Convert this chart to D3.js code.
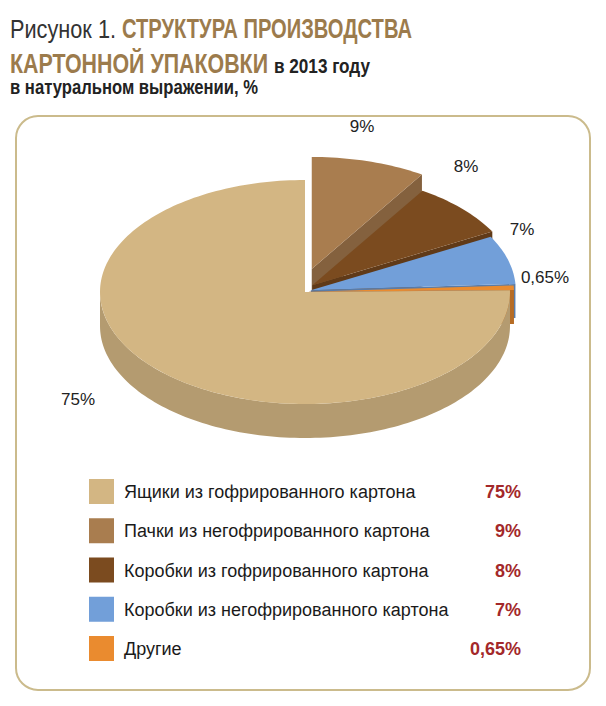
<!DOCTYPE html>
<html><head><meta charset="utf-8">
<script src="https://cdn.jsdelivr.net/npm/d3@7"></script>
<style>
body{margin:0;background:#fff;}
svg{font-family:"Liberation Sans Narrow","Liberation Sans",Arial,sans-serif;}
</style></head><body>
<svg id="c" width="606" height="706"></svg>
<script>
const labels = ['Ящики из гофрированного картона','Пачки из негофрированного картона','Коробки из гофрированного картона','Коробки из негофрированного картона','Другие'];
const values = [75, 9, 8, 7, 0.65];
const valueText = ['75%','9%','8%','7%','0,65%'];
const colors = ['#d3b683','#a97d4f','#7b4b1f','#729fd9','#ea8b2f'];
// drawing order on the pie (clockwise from 12 o'clock)
const pieOrder = [1, 2, 3, 4, 0];
const explode = [0, 24, 10, 6, 4];

const svg = d3.select('#c');
const cx = 305, cy = 292, rx = 205, ry = 112, depth = 34;

// frame
svg.append('rect').attr('x', 16).attr('y', 116).attr('width', 574).attr('height', 574)
  .attr('rx', 22).attr('fill', '#fff').attr('stroke', '#cbbb8c').attr('stroke-width', 2);

// title (compressed to mimic the condensed face)
function tt(x, y, w, size, bold, fill, s) {
  svg.append('text').attr('x', x).attr('y', y).attr('font-size', size)
    .attr('font-weight', bold ? 'bold' : 'normal').attr('fill', fill)
    .attr('textLength', w).attr('lengthAdjust', 'spacingAndGlyphs').text(s);
}
tt(10, 38, 106, 26, false, '#333', 'Рисунок 1.');
tt(122, 38, 290, 27, true, '#9c7b4c', 'СТРУКТУРА ПРОИЗВОДСТВА');
tt(10, 73, 258, 27, true, '#9c7b4c', 'КАРТОННОЙ УПАКОВКИ');
tt(274, 73, 96, 20, true, '#222', 'в 2013 году');
tt(10, 94, 248, 20, true, '#222', 'в натуральном выражении, %');

// pie geometry
const pie = d3.pie().sort(null).value(i => values[i]).startAngle(0).endAngle(2 * Math.PI);
const arcs = pie(pieOrder);
const pt = (a, dx, dy, dz) => [cx + dx + rx * Math.sin(a), cy + dy - ry * Math.cos(a) + (dz || 0)];
const g = svg.append('g');

const off = arcs.map(d => {
  const m = (d.startAngle + d.endAngle) / 2, e = explode[d.data];
  return [e * Math.sin(m), -e * Math.cos(m)];
});

function topPath(d, o) {
  const n = Math.max(4, Math.ceil((d.endAngle - d.startAngle) * 40));
  const pts = [[cx + o[0], cy + o[1]]];
  for (let k = 0; k <= n; k++) pts.push(pt(d.startAngle + (d.endAngle - d.startAngle) * k / n, o[0], o[1]));
  return d3.line()(pts) + 'Z';
}
function sidePath(d, o) {
  const a0 = Math.max(d.startAngle, Math.PI / 2), a1 = Math.min(d.endAngle, 3 * Math.PI / 2);
  if (a1 <= a0) return null;
  const n = Math.ceil((a1 - a0) * 40), top = [], bot = [];
  for (let k = 0; k <= n; k++) {
    const a = a0 + (a1 - a0) * k / n;
    top.push(pt(a, o[0], o[1])); bot.push(pt(a, o[0], o[1], depth));
  }
  return d3.line()(top.concat(bot.reverse())) + 'Z';
}
// cut walls of exploded slices
arcs.forEach((d, i) => {
  const o = off[i];
  if (d.data !== 0) {
    const p = pt(d.endAngle, o[0], o[1]);
    const w = [[cx + o[0], cy + o[1]], p, [p[0], p[1] + depth], [cx + o[0], cy + o[1] + depth]];
    g.append('path').attr('d', d3.line()(w) + 'Z').attr('fill', d3.color(colors[d.data]).darker(0.7));
  }
});
arcs.forEach((d, i) => {
  const s = sidePath(d, off[i]);
  if (s) g.append('path').attr('d', s).attr('fill', d3.color(colors[d.data]).darker(0.45));
});
arcs.forEach((d, i) => {
  g.append('path').attr('d', topPath(d, off[i])).attr('fill', colors[d.data]);
});

// pie value labels
const lblPos = [[78, 405], [362, 132], [466, 172], [522, 235], [545, 283]];
valueText.forEach((v, i) => {
  svg.append('text').attr('x', lblPos[i][0]).attr('y', lblPos[i][1]).attr('text-anchor', 'middle')
    .attr('font-size', 17).attr('fill', '#222').text(v);
});

// legend
const ly = d3.scalePoint().domain(d3.range(labels.length)).range([491, 648]);
const lg = svg.append('g');
labels.forEach((l, i) => {
  lg.append('rect').attr('x', 89).attr('y', ly(i) - 12).attr('width', 25).attr('height', 25).attr('fill', colors[i]);
  lg.append('text').attr('x', 124).attr('y', ly(i) + 7).attr('font-size', 18).attr('fill', '#1a1a1a').text(l);
  lg.append('text').attr('x', 521).attr('y', ly(i) + 7).attr('text-anchor', 'end').attr('font-size', 18)
    .attr('font-weight', 'bold').attr('fill', '#a3282a').text(valueText[i]);
});
</script></body></html>
